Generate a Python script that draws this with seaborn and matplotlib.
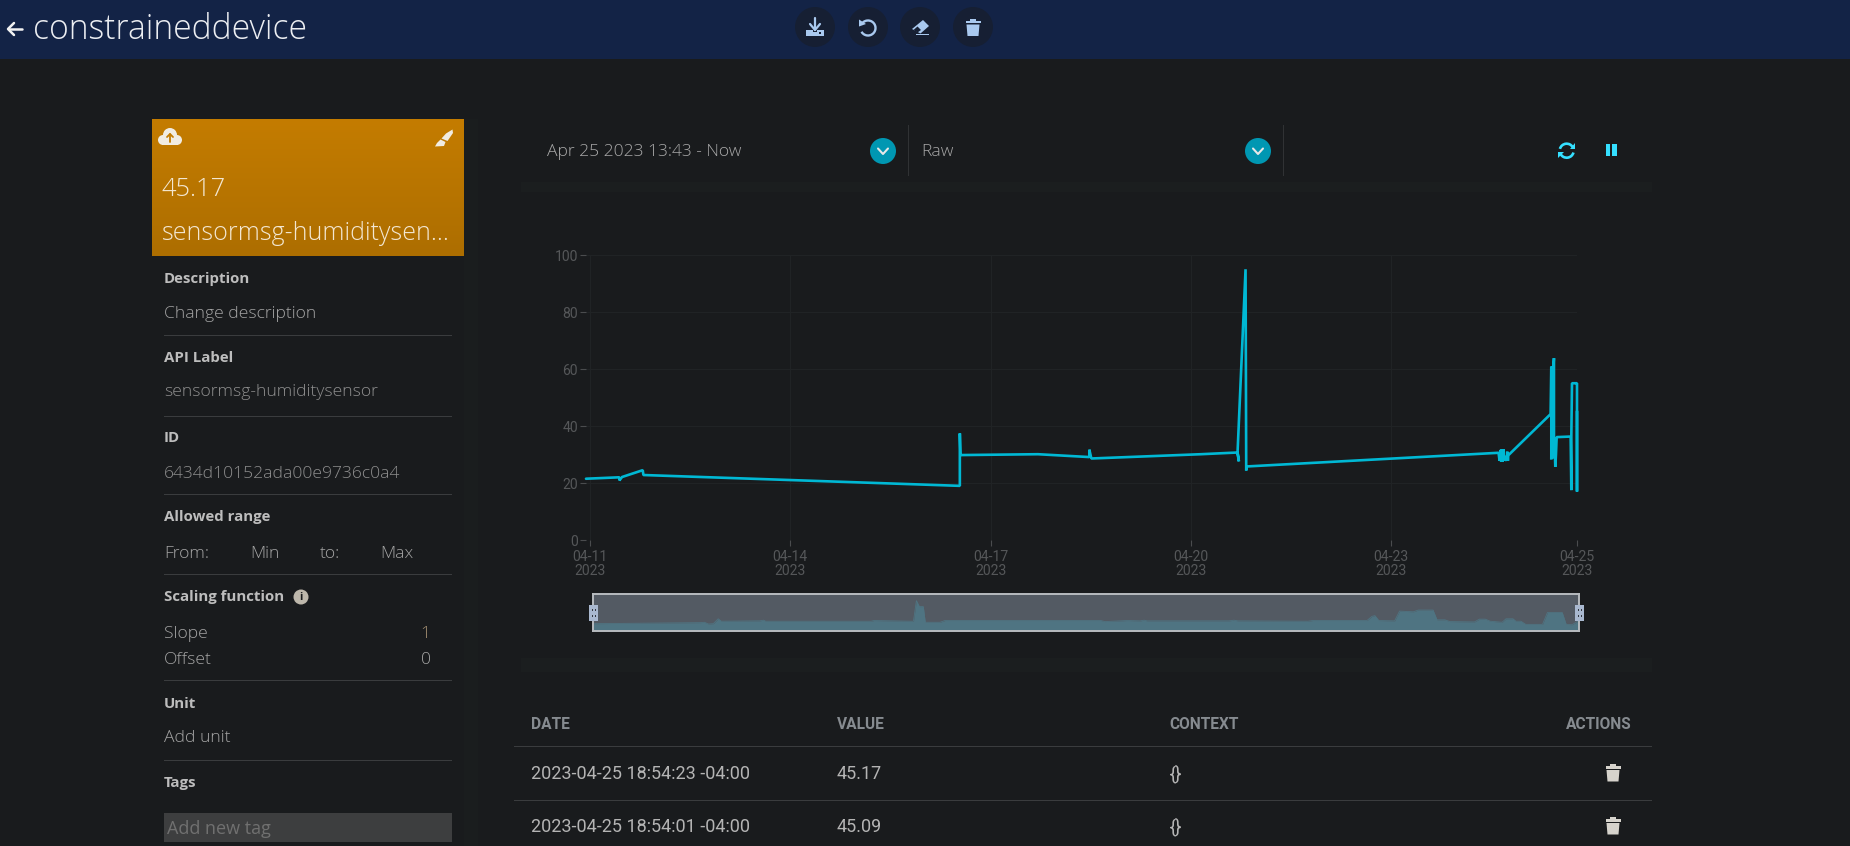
# -*- coding: utf-8 -*-
import numpy as np
import pandas as pd
import seaborn as sns
import matplotlib
matplotlib.use('Agg')
import matplotlib.pyplot as plt
from matplotlib.patches import Rectangle, Circle, Polygon, Arc
from matplotlib.colors import LinearSegmentedColormap

# humidity series, days after 04-11 00:00 and value
sample_days = [-0.06, 0.44, 0.44, 0.48, 0.79, 0.80, 5.54, 5.54, 5.55, 6.71, 7.48, 7.48, 7.51,
               9.15, 9.70, 9.72, 9.70, 9.82, 9.83, 9.835, 13.61, 13.625, 13.64, 13.65, 13.66,
               13.67, 13.68, 13.69, 13.69, 13.73, 13.74, 13.75, 13.755, 14.39, 14.40, 14.40,
               14.41, 14.41, 14.42, 14.42, 14.43, 14.44, 14.44, 14.45, 14.46, 14.47, 14.48,
               14.69, 14.70, 14.70, 14.71, 14.77, 14.785, 14.785, 14.785]
sample_values = [21.5, 22.0, 20.9, 22.1, 24.5, 22.8, 19.0, 37.4, 29.8, 30.1, 29.1, 31.7, 28.6,
                 30.1, 30.7, 27.6, 30.7, 95.0, 24.4, 25.8, 30.6, 27.8, 31.6, 27.4, 31.9, 27.4,
                 31.9, 27.8, 29.6, 27.8, 31.0, 27.8, 29.7, 44.2, 60.8, 28.3, 60.8, 28.7, 60.8,
                 28.7, 60.8, 63.8, 30.3, 33.0, 25.7, 30.0, 36.1, 36.3, 17.5, 36.3, 55.0, 55.0,
                 55.0, 17.0, 45.17]

# miniature in the range selector, percent of width and percent of height
slider_x = [0, 10.9, 11.3, 11.7, 12.2, 12.7, 13, 16.9, 17.3, 17.5, 28.2, 28.5, 32.2, 32.5, 32.8,
            33.1, 33.5, 33.7, 35.2, 35.7, 51.5, 51.9, 53.5, 54.2, 55.5, 55.9, 56.2, 64.5, 65,
            65.4, 72.5, 73, 78.5, 79, 79.3, 79.7, 81.3, 81.8, 83.2, 83.7, 85.2, 85.6, 86.4,
            86.9, 89.4, 89.9, 90.5, 91, 92.2, 92.6, 93.3, 93.6, 94.1, 94.6, 96.3, 96.8, 98.3,
            98.7, 99.3, 100]
slider_y = [19.8, 22.6, 23.6, 18.9, 19.8, 33, 26.4, 27.4, 29.2, 26.4, 26.4, 28.3, 26.4, 26.4, 82,
            66, 66, 23.6, 23.6, 28.3, 28.3, 25.5, 27.4, 28.3, 27.4, 29.2, 27.4, 27.4, 29.2,
            27.4, 26.4, 28.3, 28.3, 39.6, 41.5, 28.3, 27.4, 53.8, 51.9, 56.6, 56.6, 30.2, 30.2,
            25.5, 24.5, 32, 32, 26.4, 23.6, 33, 33, 26.4, 26.4, 17.9, 17.9, 50, 50, 17.9, 17, 28.3]

y_ticks = [0, 20, 40, 60, 80, 100]
tick_days = [0, 3, 6, 9, 12, 14.785]
tick_labels = ['04-11\n2023', '04-14\n2023', '04-17\n2023', '04-20\n2023', '04-23\n2023', '04-25\n2023']

table_header = ['DATE', 'VALUE', 'CONTEXT', 'ACTIONS']
table_dates = ['2023-04-25 18:54:23 -04:00', '2023-04-25 18:54:01 -04:00']
table_values = ['45.17', '45.09']

BG = '#191b1d'
NAVY = '#132346'
CYAN = '#00b8d4'

sns.set_theme(style='dark', rc={'axes.facecolor': 'none', 'figure.facecolor': BG})
plt.rcParams['font.family'] = ['Open Sans', 'DejaVu Sans']


def px(v):
    return v * 0.72


def pos(x0, y0, x1, y1):
    return [x0 / 1850, 1 - y1 / 846, (x1 - x0) / 1850, (y1 - y0) / 846]


fig = plt.figure(figsize=(18.5, 8.46), dpi=100, facecolor=BG)

ui = fig.add_axes([0, 0, 1, 1], zorder=0)
ui.set_xlim(0, 1850)
ui.set_ylim(846, 0)
ui.axis('off')


def label(x, y, s, size=17.5, color='#a6a6a6', weight='normal', ha='left', family='Open Sans'):
    ui.text(x, y + 1.5, s, fontsize=px(size), color=color, fontweight=weight, ha=ha, va='center', family=family)


def rect(x0, y0, x1, y1, color, z=1, target=None):
    (target or ui).add_patch(Rectangle((x0, y0), x1 - x0, y1 - y0, facecolor=color, edgecolor='none', zorder=z))


def poly(points, color, z=4):
    ui.add_patch(Polygon(points, facecolor=color, edgecolor='none', zorder=z))


def trash(cx, cy, color):
    rect(cx - 7.5, cy - 6.5, cx + 7.5, cy - 4, color, 4)
    rect(cx - 3, cy - 8.5, cx + 3, cy - 6, color, 4)
    poly([(cx - 6.5, cy - 3), (cx + 6.5, cy - 3), (cx + 5.5, cy + 8.5), (cx - 5.5, cy + 8.5)], color)


def chevron(cx, cy):
    ui.add_patch(Circle((cx, cy), 13, facecolor='#0097b2', edgecolor='none', zorder=3))
    ui.plot([cx - 5, cx, cx + 5], [cy - 2.5, cy + 3, cy - 2.5], color='#e8e8e8', lw=1.5, zorder=4)


# page chrome
rect(0, 0, 1850, 59, NAVY)
rect(464, 119, 478, 846, '#1a1d1e')
rect(521, 182, 1652, 192, '#1b1e1f')
rect(521, 658, 1652, 672, '#1b1e1f')

# header
ui.plot([9, 22], [29, 29], color='#f2f2f2', lw=1.8, zorder=3)
ui.plot([14, 8, 14], [23, 29, 35], color='#f2f2f2', lw=1.8, zorder=3)
label(33, 28.5, 'constraineddevice', size=33.6, color='#eceef2', weight='light')
for cx in [815, 868, 920, 973]:
    ui.add_patch(Circle((cx, 27), 20, facecolor='#161f33', edgecolor='none', zorder=2))
ICON = '#a9c9ef'
# download
rect(806, 30, 824, 36, ICON, 4)
rect(813, 29, 817, 32, '#161f33', 5)
rect(819, 32.5, 821, 34, '#161f33', 5)
ui.plot([815, 815], [18, 30], color=ICON, lw=1.6, zorder=5)
ui.plot([810, 815, 820], [24, 30, 24], color=ICON, lw=1.6, zorder=5)
# undo
ui.add_patch(Arc((868, 28), 15, 15, theta1=-150, theta2=150, color=ICON, lw=1.7, zorder=4))
poly([(859, 19.5), (866, 24), (859, 26.5)], ICON)
# eraser
poly([(912, 29), (923, 20), (929, 26), (920.5, 33.5)], ICON)
poly([(913.5, 30), (917.5, 26.5), (921, 30), (917.5, 32.5)], '#161f33', 5)
rect(916, 33.6, 929, 35, ICON, 4)
trash(973, 27.5, ICON)

# sensor card
orange = LinearSegmentedColormap.from_list('card', ['#c47c00', '#ad6e00'])
ui.imshow(np.linspace(0, 1, 64)[:, None], extent=(152, 464, 256, 119), aspect='auto', cmap=orange, zorder=1)
ui.set_xlim(0, 1850)
ui.set_ylim(846, 0)
# cloud
for cx, cy, r in [(163, 140, 5), (170, 135, 7), (177, 140, 5)]:
    ui.add_patch(Circle((cx, cy), r, facecolor='#f1ece2', edgecolor='none', zorder=3))
rect(162, 139, 178, 145, '#f1ece2', 3)
ui.plot([170, 170], [134, 142], color='#c47c00', lw=1.3, zorder=4)
ui.plot([167, 170, 173], [137, 134, 137], color='#c47c00', lw=1.3, zorder=4)
# brush
poly([(452.5, 129.5), (453, 133), (447.5, 141), (441.5, 138.5), (446, 133.5)], '#f1ece2', 3)
poly([(440.5, 139.5), (445.5, 142), (444, 146), (435, 146.5), (437, 143)], '#f1ece2', 3)
label(162, 188, '45.17', size=25.5, color='#f3e7d2', weight='light')
label(162, 231.5, 'sensormsg-humiditysen...', size=25, color='#f3e7d2', weight='light')

# left panel
HEAD = '#bdbdbd'
SOFT = '#a4a4a4'
LINE = '#3a3c3e'
for y, s in [(278, 'Description'), (357, 'API Label'), (437, 'ID'), (516, 'Allowed range'),
             (596, 'Scaling function'), (703, 'Unit'), (782, 'Tags')]:
    label(164, y, s, size=15, color=HEAD, weight='bold')
for y in [335, 416, 494, 574, 680, 760]:
    rect(164, y, 452, y + 1, LINE, 2)
label(164, 313, 'Change description', color=SOFT, weight='light')
label(164, 391, 'sensormsg-humiditysensor', color='#8e8e8e', weight='light')
label(164, 472, '6434d10152ada00e9736c0a4', color='#8e8e8e', weight='light')
label(164, 552, 'From:', color=SOFT, weight='light')
label(250, 552, 'Min', color=SOFT, weight='light')
label(320, 552, 'to:', color=SOFT, weight='light')
label(380, 552, 'Max', color=SOFT, weight='light')
ui.add_patch(Circle((301, 597), 7.5, facecolor='#bdb7ab', edgecolor='none', zorder=3))
label(301, 596, 'i', size=11, color=BG, weight='bold', ha='center')
label(164, 632, 'Slope', color=SOFT, weight='light')
label(430, 632, '1', color='#a08c70', weight='light', ha='right')
label(164, 658, 'Offset', color=SOFT, weight='light')
label(431, 658, '0', color=SOFT, weight='light', ha='right')
label(164, 737, 'Add unit', color=SOFT, weight='light')
rect(164, 813, 452, 842, '#3d3e3f', 2)
label(167, 828, 'Add new tag', size=18, color='#707070')

# time range controls
label(547, 150, 'Apr 25 2023 13:43 - Now', color='#a8a8a8', weight='light')
label(921, 150, 'Raw', color='#a8a8a8', weight='light')
chevron(883, 151)
chevron(1258, 151)
rect(908, 125, 909, 176, '#303234', 2)
rect(1283, 125, 1284, 176, '#303234', 2)
REFRESH = '#35e0ff'
ui.add_patch(Arc((1566.7, 150.7), 14, 14, theta1=195, theta2=330, color=REFRESH, lw=1.9, zorder=3))
ui.add_patch(Arc((1566.7, 150.7), 14, 14, theta1=15, theta2=150, color=REFRESH, lw=1.9, zorder=3))
poly([(1570, 149), (1575, 149), (1575, 143)], REFRESH, 3)
poly([(1558, 152), (1564, 152), (1558, 158)], REFRESH, 3)
rect(1605.7, 144, 1610, 156, REFRESH, 3)
rect(1612.3, 144, 1616.7, 156, REFRESH, 3)

# table
for x, s in zip([531, 837, 1169], table_header[:3]):
    label(x, 723, s, size=15.5, color='#868b90', weight='bold', family='Roboto')
label(1632, 723, table_header[3], size=15.5, color='#868b90', weight='bold', ha='right', family='Roboto')
rect(514, 746, 1652, 747, LINE, 2)
rect(514, 800, 1652, 801, LINE, 2)
for y, d, v in zip([772.5, 825.5], table_dates, table_values):
    label(531, y, d, size=18, color='#b4b4b4', family='Roboto')
    label(837, y, v, size=18, color='#b4b4b4', family='Roboto')
    label(1169, y, '{}', size=18, color='#b4b4b4', family='Roboto')
    trash(1613, y + 0.5, '#d6d3cc')

# main chart
df = pd.DataFrame({'day': sample_days, 'value': sample_values})
df['time'] = pd.Timestamp('2023-04-11') + pd.to_timedelta(df['day'], unit='D')
tick_times = pd.Timestamp('2023-04-11') + pd.to_timedelta(tick_days, unit='D')

ax = fig.add_axes(pos(586, 255, 1577, 540), zorder=2)
ax.set_facecolor('none')
ax.grid(True, color='#202325', lw=0.8)
ax.set_axisbelow(True)
sns.lineplot(data=df, x='time', y='value', sort=False, estimator=None, color=CYAN, lw=1.9,
             ax=ax, clip_on=False, solid_joinstyle='bevel')
ax.set_xlim(df['time'].min(), df['time'].max())
ax.set_ylim(0, 100)
ax.set_xticks(tick_times)
ax.set_xticklabels(tick_labels, linespacing=1.0, family='Roboto')
ax.set_yticks(y_ticks)
ax.set_xlabel('')
ax.set_ylabel('')
ax.tick_params(axis='both', length=4.3, width=0.8, color='#4a4c4e', labelcolor='#555759',
               labelsize=px(14), pad=3, bottom=True, left=True)
ax.tick_params(axis='y', pad=1.5)
for t in ax.get_yticklabels():
    t.set_family('Roboto')
for side in ax.spines:
    ax.spines[side].set_visible(False)

# range selector
ax_s = fig.add_axes(pos(593, 594, 1579, 631), zorder=2)
ax_s.set_facecolor('#535a63')
sns.lineplot(x=slider_x, y=slider_y, color='#4f7482', lw=0.6, ax=ax_s, estimator=None, sort=False)
ax_s.fill_between(slider_x, slider_y, 0, color='#4f7482', lw=0)
ax_s.set_xlim(0, 100)
ax_s.set_ylim(0, 100)
ax_s.set_xticks([])
ax_s.set_yticks([])
for side in ax_s.spines:
    ax_s.spines[side].set_visible(True)
    ax_s.spines[side].set_color('#b7bbbf')
    ax_s.spines[side].set_linewidth(1.4)

top = fig.add_axes([0, 0, 1, 1], zorder=3)
top.set_xlim(0, 1850)
top.set_ylim(846, 0)
top.axis('off')
for x0 in [589, 1575]:
    rect(x0, 605, x0 + 9, 621, '#a9b8cf', 1, top)
    for dx in [2.5, 5.5]:
        for y in [610, 616]:
            rect(x0 + dx, y - 1, x0 + dx + 1.5, y + 1, '#33383f', 2, top)

plt.savefig('out.png', dpi=100, facecolor=BG)
plt.close()
